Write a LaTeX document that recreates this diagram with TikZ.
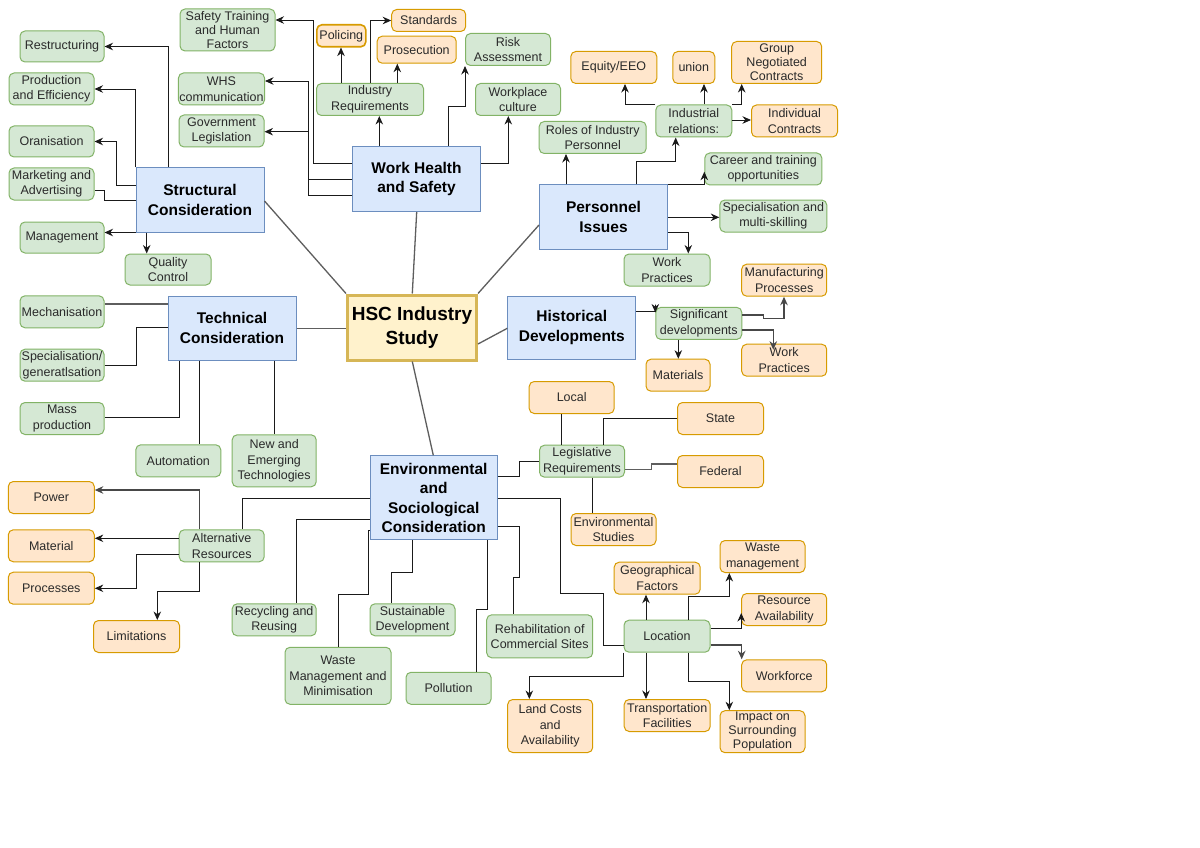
\documentclass[tikz,border=0pt]{standalone}
\usepackage{fontspec}
\setmainfont{Liberation Sans}
\usetikzlibrary{arrows.meta}
\definecolor{gfill}{HTML}{D5E8D4}
\definecolor{gline}{HTML}{82B366}
\definecolor{ofill}{HTML}{FFE6CC}
\definecolor{oline}{HTML}{D79B00}
\definecolor{bfill}{HTML}{DAE8FC}
\definecolor{bline}{HTML}{6C8EBF}
\definecolor{yfill}{HTML}{FFF2CC}
\definecolor{yline}{HTML}{D6B656}
\definecolor{txt}{HTML}{2A2A2A}
\definecolor{edge}{HTML}{1A1A1A}
\definecolor{gedge}{HTML}{5E5E5E}
\begin{document}
\begin{tikzpicture}[x=1pt,y=-1pt,
 base/.style={rectangle, align=center, inner sep=1pt, line width=1pt},
 sz/.style 2 args={minimum width=#1, minimum height=#2},
 gb/.style={base, rounded corners=5pt, fill=gfill, draw=gline, text=txt, font=\fontsize{12.5}{15.5}\selectfont},
 ob/.style={base, rounded corners=5pt, fill=ofill, draw=oline, text=txt, font=\fontsize{12.5}{15.5}\selectfont},
 tight/.style={font=\fontsize{12.5}{14}\selectfont},
 bb/.style={base, fill=bfill, draw=bline, text=black, font=\bfseries\fontsize{15.5}{19.5}\selectfont},
 hb/.style={base, fill=yfill, draw=yline, line width=3pt, text=black, font=\bfseries\fontsize{19}{24}\selectfont},
 ln/.style={draw=edge, line width=0.9pt},
 arr/.style={ln, -{Stealth[length=8.5pt,width=7.5pt]}},
 lg/.style={draw=gedge, line width=1.4pt},
 arrg/.style={lg, draw=edge!80, -{Stealth[length=8.5pt,width=7.5pt]}},
 cl/.style={draw=gedge, line width=1.3pt},
]
\useasboundingbox[fill=white] (0,0) rectangle (1200,848);

% ---------- Structural ----------
\node[bb, sz={128}{64}] (S) at (200,200) {Structural\\Consideration};
\node[gb, sz={95}{42}, tight] (Sa) at (227.5,30) {Safety Training\\and Human\\Factors};
\node[gb, sz={84}{31}] (Rs) at (62,46.5) {Restructuring};
\node[gb, sz={85}{32}] (Pe) at (51.5,89) {Production\\and Efficiency};
\node[gb, sz={85}{31}] (Or) at (51.5,141.5) {Oranisation};
\node[gb, sz={85}{32}] (Ma) at (51.5,184) {Marketing and\\Advertising};
\node[gb, sz={84}{31}] (Mg) at (62,237.5) {Management};
\node[gb, sz={86}{31}] (Q) at (168,269.5) {Quality\\Control};
\node[gb, sz={85}{32}] (Wh) at (221.5,89) {WHS\\communication};
\node[gb, sz={85}{32}] (Gl) at (221.5,131) {Government\\Legislation};

% ---------- WHS ----------
\node[bb, sz={128}{65}] (W) at (416.5,179) {Work Health\\and Safety};
\node[gb, sz={107}{32}] (IR) at (370,99.5) {Industry\\Requirements};
\node[ob, sz={49}{22}, line width=1.6pt] (Po) at (341.3,35.8) {Policing};
\node[ob, sz={74}{22}] (St) at (428.7,20.5) {Standards};
\node[ob, sz={79}{27}] (Pr) at (416.7,49.7) {Prosecution};
\node[gb, sz={85}{32}] (Ri) at (508,49.5) {Risk\\Assessment};
\node[gb, sz={85}{32}] (Wc) at (518,99.5) {Workplace\\culture};

% ---------- Personnel ----------
\node[bb, sz={128}{64}] (P) at (603.5,217) {Personnel\\Issues};
\node[gb, sz={107}{32}] (Ro) at (592.7,137.5) {Roles of Industry\\Personnel};
\node[gb, sz={76}{32}] (Ir) at (693.8,121) {Industrial\\relations:};
\node[ob, sz={86}{32}] (Eq) at (613.8,67.5) {Equity/EEO};
\node[ob, sz={42}{32}] (Un) at (693.8,67.5) {union};
\node[ob, sz={90}{42}, tight] (Gr) at (776.7,62.5) {Group\\Negotiated\\Contracts};
\node[ob, sz={86}{32}] (In) at (794.5,121) {Individual\\Contracts};
\node[gb, sz={117}{32}] (Ca) at (763.3,169) {Career and training\\opportunities};
\node[gb, sz={107}{32}] (Sp) at (773.3,216) {Specialisation and\\multi-skilling};
\node[gb, sz={86}{32}] (Wp) at (667,270) {Work\\Practices};

% ---------- Centre ----------
\node[hb, sz={129}{65}] (H) at (412,327.5) {HSC Industry\\Study};

% ---------- Historical ----------
\node[bb, sz={128}{63}] (Hd) at (571.8,327.7) {Historical\\Developments};
\node[gb, sz={86}{32}] (Sd) at (698.8,323.4) {Significant\\developments};
\node[ob, sz={85}{32}] (Mf) at (784.2,280.2) {Manufacturing\\Processes};
\node[ob, sz={85}{32}] (Wo) at (784.2,360.2) {Work\\Practices};
\node[ob, sz={64}{32}] (Mt) at (678,375.2) {Materials};

% ---------- Technical ----------
\node[bb, sz={128}{64}] (T) at (232,328) {Technical\\Consideration};
\node[gb, sz={84}{32}] (Me) at (62,311.8) {Mechanisation};
\node[gb, sz={84}{32}] (Sg) at (62,365.2) {Specialisation/\\generatlsation};
\node[gb, sz={84}{32}] (Mp) at (62,418.5) {Mass\\production};
\node[gb, sz={85}{32}] (Au) at (178.3,460.8) {Automation};
\node[gb, sz={84}{52}] (Ne) at (274.2,460.8) {New and\\Emerging\\Technologies};

% ---------- Environmental ----------
\node[bb, sz={127}{84}] (E) at (433.7,497.8) {Environmental\\and\\Sociological\\Consideration};
\node[gb, sz={85}{32}] (L) at (582,461.2) {Legislative\\Requirements};
\node[ob, sz={85}{32}] (Lo) at (571.7,397.5) {Local};
\node[ob, sz={86}{32}] (Sta) at (720.5,418.5) {State};
\node[ob, sz={86}{32}] (Fe) at (720.5,471.5) {Federal};
\node[ob, sz={85}{32}] (Es) at (613.5,529.5) {Environmental\\Studies};
\node[gb, sz={85}{32}] (Ar) at (221.7,545.8) {Alternative\\Resources};
\node[ob, sz={86}{32}] (Pw) at (51.3,497.5) {Power};
\node[ob, sz={86}{32}] (Mat) at (51.3,545.8) {Material};
\node[ob, sz={86}{32}] (Pc) at (51.3,588.2) {Processes};
\node[ob, sz={86}{32}] (Li) at (136.5,636.5) {Limitations};
\node[gb, sz={84}{32}] (Rr) at (274.2,619.8) {Recycling and\\Reusing};
\node[gb, sz={106}{57}] (Wm) at (338,675.8) {Waste\\Management and\\Minimisation};
\node[gb, sz={85}{32}] (Su) at (412.5,619.8) {Sustainable\\Development};
\node[gb, sz={85}{32}] (Pl) at (448.5,688.3) {Pollution};
\node[gb, sz={106}{43}] (Rh) at (539.7,636.3) {Rehabilitation of\\Commercial Sites};
\node[gb, sz={86}{32}] (Lc) at (667,636.2) {Location};
\node[ob, sz={86}{32}] (Gf) at (657.2,578.2) {Geographical\\Factors};
\node[ob, sz={85}{32}] (Wg) at (762.5,556.5) {Waste\\management};
\node[ob, sz={85}{32}] (Ra) at (784.2,609.5) {Resource\\Availability};
\node[ob, sz={85}{32}] (Wf) at (784.2,675.8) {Workforce};
\node[ob, sz={85}{42}, tight] (Im) at (762.5,731.7) {Impact on\\Surrounding\\Population};
\node[ob, sz={86}{32}] (Tf) at (667.2,715.5) {Transportation\\Facilities};
\node[ob, sz={85}{53}] (Lnd) at (550.2,726) {Land Costs\\and\\Availability};

% ================= connectors =================
% centre spokes
\draw[cl] (S.east |- 0,201) -- (H.north west);
\draw[cl] (416.7,0 |- W.south) -- (412.3,0 |- H.north);
\draw[cl] (P.west |- 0,225) -- (H.north east);
\draw[cl] (T.east |- 0,328.3) -- (H.west |- 0,328.3);
\draw[cl] (Hd.west |- 0,328.3) -- (H.east |- 0,344);
\draw[cl] (412.3,0 |- H.south) -- (433.3,0 |- E.north);

% structural
\draw[arr] (168,0 |- S.north) |- (Rs.east);
\draw[arr] (S.north west) |- (Pe.east);
\draw[arr] (S.west |- 0,185) -- (116,185) |- (Or.east);
\draw[ln] (S.west |- 0,200.5) -- (104,200.5) |- (Ma.east |- 0,190.5);
\draw[arr] (S.south west) -- (Mg.east |- S.south west);
\draw[arr] (146.7,0 |- S.south) -- (146.7,0 |- Q.north);

% WHS
\draw[arr] (379.3,0 |- W.north) -- (379.3,0 |- IR.south);
\draw[arr] (341,0 |- IR.north) -- (341,0 |- Po.south);
\draw[arr] (370,0 |- IR.north) |- (St.west);
\draw[arr] (397.3,0 |- IR.north) -- (397.3,0 |- Pr.south);
\draw[arr] (448.3,0 |- W.north) |- (Ri.south west |- 0,106.7) -- (Ri.south west);
\draw[arr] (W.east |- 0,163.3) -| (508.3,0 |- Wc.south);
\draw[arr] (W.west |- 0,163.3) -- (313.3,163.3) |- (Sa.east |- 0,20);
\draw[arr] (W.west |- 0,179.3) -- (308.3,179.3) |- (Wh.east |- 0,81);
\draw[arr] (W.west |- 0,195) -- (308.3,195) |- (Gl.east |- 0,131.7);

% personnel
\draw[arr] (566,0 |- P.north) -- (566,0 |- Ro.south);
\draw[arr] (636,0 |- P.north) |- (675.7,161.7) -- (675.7,0 |- Ir.south);
\draw[arr] (Ir.north west) -| (625,0 |- Eq.south);
\draw[arr] (704,0 |- Ir.north) -- (704,0 |- Un.south);
\draw[arr] (Ir.north east) -| (741.7,0 |- Gr.south);
\draw[arr] (Ir.east |- 0,120) -- (In.west |- 0,120);
\draw[arr] (P.north east) -| (Ca.west |- 0,171.7);
\draw[arr] (P.east |- 0,217.3) -- (Sp.west |- 0,217.3);
\draw[arr] (P.east |- 0,232.3) -| (688.3,0 |- Wp.north);

% historical
\draw[arr] (Hd.east |- 0,311.7) -- (Sd.west |- 0,311.7) -- (Sd.west |- 0,304.5) -- (Sd.west |- 0,312.5);
\draw[arrg] (Sd.east |- 0,315) -- (763.3,315) -- (763.3,318.3) -| (784,0 |- Mf.south);
\draw[arrg] (Sd.east |- 0,330) -| ([yshift=-6pt]773.3,0 |- Wo.north);
\draw[arr] (678.3,0 |- Sd.south) -- (678.3,0 |- Mt.north);

% technical
\draw[lg] (Me.east |- 0,304) -- (T.west |- 0,304);
\draw[ln] (Sg.east |- 0,365) -- (136,365) |- (T.west |- 0,327.7);
\draw[ln] (Mp.east |- 0,417.7) -| (179.3,0 |- T.south);
\draw[ln] (199.3,0 |- T.south) -- (199.3,0 |- Au.north);
\draw[ln] (274.3,0 |- T.south) -- (274.3,0 |- Ne.north);

% legislative
\draw[ln] (E.east |- 0,476.7) -- (519,476.7) |- (L.west |- 0,461);
\draw[ln] (561,0 |- Lo.south) -- (561,0 |- L.north);
\draw[ln, line width=1.3pt] (603.3,0 |- L.north) |- (Sta.west |- 0,418.3);
\draw[lg] (L.east |- 0,469.3) -- (651.7,469.3) |- (Fe.west |- 0,464);
\draw[ln] (592.7,0 |- L.south) -- (592.7,0 |- Es.north);

% alternative resources
\draw[ln] (E.west |- 0,498.3) -| (242.7,0 |- Ar.north);
\draw[arrg] (199.3,0 |- Ar.north) |- (Pw.east |- 0,490);
\draw[arr] (Ar.west |- 0,538.3) -- (Mat.east |- 0,538.3);
\draw[arr] (Ar.west |- 0,554.3) -- (136,554.3) |- (Pc.east |- 0,588.3);
\draw[arr] (199.3,0 |- Ar.south) -- (199.3,591.7) -| (157.3,0 |- Li.north);

% environmental others
\draw[ln] (E.west |- 0,519) -| (296,0 |- Rr.north);
\draw[ln] (E.west |- 0,530) -- (368.3,530) -- (368.3,594) -| (338.3,0 |- Wm.north);
\draw[ln] (412.3,0 |- E.south) -- (412.3,572.3) -| (391.7,0 |- Su.north);
\draw[ln] (487.3,0 |- E.south) -- (487.3,609.3) -| (476,0 |- Pl.north);
\draw[ln] (E.east |- 0,526.7) -- (519.3,526.7) -- (519.3,577.3) -| (513.3,0 |- Rh.north);
\draw[ln] (E.east |- 0,498.3) -- (560.7,498.3) -- (560.7,593.3) -- (603.3,593.3) |- (Lc.west |- 0,645);

% location
\draw[arr] (646,0 |- Lc.north) -- (646,0 |- Gf.south);
\draw[arr] (688.3,0 |- Lc.north) |- (729.3,596.7) -- (729.3,0 |- Wg.south);
\draw[arr] (Lc.east |- 0,628.3) -| (Ra.west |- 0,613);
\draw[arrg] (Lc.east |- 0,645) -| (741.7,0 |- Wf.north);
\draw[arr] (688.3,0 |- Lc.south) |- (729.3,681.7) -- (729.3,0 |- Im.north);
\draw[arr] (646,0 |- Lc.south) -- (646,0 |- Tf.north);
\draw[arr] (Lc.south west) |- (529.3,676) -- (529.3,0 |- Lnd.north);
\end{tikzpicture}
\end{document}
